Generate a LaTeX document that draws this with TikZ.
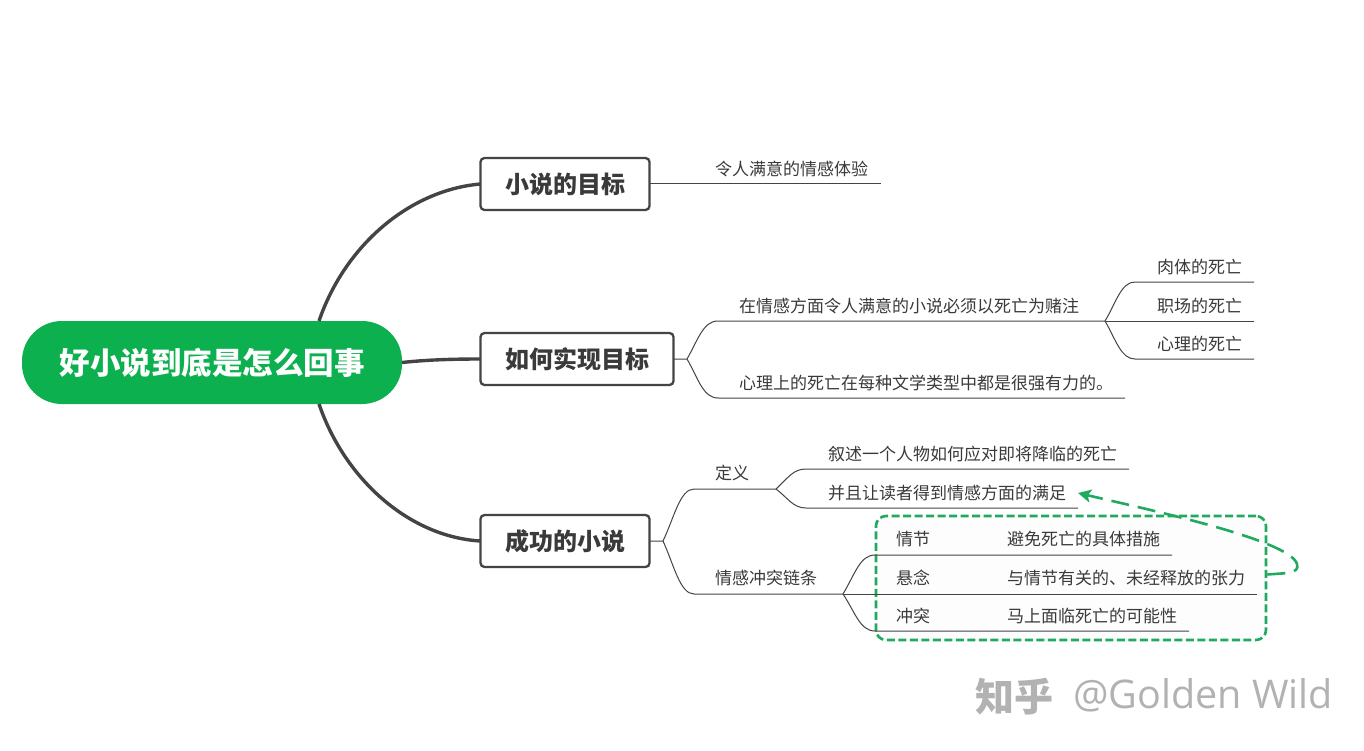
\documentclass[tikz,border=0pt]{standalone}
\usepackage{fontspec}
\setmainfont{Noto Sans CJK SC}
\newfontfamily\wmfont{Open Sans}
\usetikzlibrary{arrows.meta}
\definecolor{mygreen}{HTML}{0CB04F}
\definecolor{dashgreen}{HTML}{1FAA5F}
\definecolor{ink}{HTML}{444444}
\definecolor{txt}{HTML}{3A3A3A}
\tikzset{
  rootbox/.style={fill=mygreen,rounded corners=40pt,minimum width=380pt,minimum height=83pt,inner sep=0pt,outer sep=0pt,text=white,font=\fontsize{30.5}{32}\selectfont\bfseries},
  branchbox/.style={draw=ink,line width=2.3pt,fill=white,rounded corners=4pt,minimum height=52pt,inner sep=0pt,outer sep=0pt,text=txt,font=\fontsize{24}{26}\selectfont\bfseries},
  thick link/.style={draw=ink,line width=3.4pt},
  thin link/.style={draw=ink,line width=1pt},
  leaf/.style={anchor=west,inner sep=0pt,text=txt,font=\fontsize{17}{19}\selectfont},
  greenbox/.style={draw=dashgreen,line width=2.6pt,dash pattern=on 8pt off 3.5pt,rounded corners=10pt,fill=black!0.7,minimum width=390pt,minimum height=124pt,inner sep=0pt},
  watermark/.style={inner sep=0pt,text=black!30,anchor=west},
}
\begin{document}
\begin{tikzpicture}[x=1pt,y=-1pt]
\useasboundingbox[fill=white] (0,0) rectangle (1364,751);
% green highlight box
\node[greenbox] (hl) at (1071,578) {};
% hubs and ends
\coordinate (rt) at (319,321); \coordinate (rb) at (319,404);
\coordinate (f2) at (687,359); \coordinate (f3) at (663,541);
\coordinate (e1) at (881,184);
\coordinate (u21) at (1105,321); \coordinate (u22) at (1125,398);
\coordinate (e211) at (1254,282); \coordinate (e212) at (1254,321); \coordinate (e213) at (1254,359);
\coordinate (u31) at (776,489); \coordinate (u32) at (843,594);
\coordinate (e311) at (1129,469); \coordinate (e312) at (1078,508);
\coordinate (e321) at (1172,555); \coordinate (e322) at (1257,594); \coordinate (e323) at (1189,631);
% nodes
\node[rootbox] (root) at (212,362.5) {\raisebox{-1pt}{好小说到底是怎么回事}};
\node[branchbox,minimum width=169pt] (b1) at (565,184) {\raisebox{-1pt}{小说的目标}};
\node[branchbox,minimum width=193pt] (b2) at (577,359) {\raisebox{-1pt}{如何实现目标}};
\node[branchbox,minimum width=169pt] (b3) at (565,541) {\raisebox{-1pt}{成功的小说}};
% main connectors
\draw[thick link] (rt) .. controls (345,245) and (410,190) .. (b1.west);
\draw[thick link] (root.east) .. controls (425,360) and (450,359) .. (b2.west);
\draw[thick link] (rb) .. controls (345,480) and (410,537) .. (b3.west);
% branch 1
\draw[thin link] (b1.east) -- (e1);
% branch 2
\draw[thin link] (b2.east) -- (f2) .. controls (698,340) and (703,321) .. (718,321) -- (u21);
\draw[thin link] (f2) .. controls (698,378) and (703,398) .. (718,398) -- (u22);
\draw[thin link] (u21) .. controls (1116,303) and (1121,282) .. (1135,282) -- (e211);
\draw[thin link] (u21) -- (e212);
\draw[thin link] (u21) .. controls (1116,340) and (1121,359) .. (1135,359) -- (e213);
% branch 3
\draw[thin link] (b3.east) -- (f3) .. controls (674,518) and (680,489) .. (694,489) -- (u31);
\draw[thin link] (f3) .. controls (674,565) and (680,594) .. (694,594) -- (u32);
\draw[thin link] (u31) .. controls (788,478) and (793,469) .. (806,469) -- (e311);
\draw[thin link] (u31) .. controls (788,498) and (793,508) .. (806,508) -- (e312);
\draw[thin link] (u32) .. controls (855,574) and (860,555) .. (875,555) -- (e321);
\draw[thin link] (u32) -- (e322);
\draw[thin link] (u32) .. controls (855,612) and (860,631) .. (875,631) -- (e323);
% labels
\node[leaf] (t1) at (715,169) {令人满意的情感体验};
\node[leaf] (t21) at (739,306) {在情感方面令人满意的小说必须以死亡为赌注};
\node[leaf] (t22) at (739,383) {心理上的死亡在每种文学类型中都是很强有力的。};
\node[leaf] (t211) at (1157,267) {肉体的死亡};
\node[leaf] (t212) at (1157,306) {职场的死亡};
\node[leaf] (t213) at (1157,344) {心理的死亡};
\node[leaf] (t31) at (715,473) {定义};
\node[leaf] (t311) at (828,454) {叙述一个人物如何应对即将降临的死亡};
\node[leaf] (t312) at (828,493) {并且让读者得到情感方面的满足};
\node[leaf] (t32) at (715,578) {情感冲突链条};
\node[leaf] (t321) at (896,539) {情节};
\node[leaf] (t322) at (896,578) {悬念};
\node[leaf] (t323) at (896,616) {冲突};
\node[leaf] (t3211) at (1007,539) {避免死亡的具体措施};
\node[leaf] (t3221) at (1007,578) {与情节有关的、未经释放的张力};
\node[leaf] (t3231) at (1007,616) {马上面临死亡的可能性};
% relation arrow
\draw[draw=dashgreen,line width=2.6pt,dash pattern=on 18pt off 9pt,-{Stealth[length=13pt,width=13pt,inset=3pt]}]
  (hl.east |- 0,574.5) .. controls (1285,573) and (1300,574) .. (1297,564)
  .. controls (1290,540) and (1150,510) .. (t312.east -| e312) ;
% watermark
\node[watermark,font=\bfseries\fontsize{39}{41}\selectfont] (w1) at (975,697) {知乎};
\node[watermark,font=\wmfont\fontsize{39.5}{42}\selectfont] (w2) at (1073,695) {@Golden Wild};
\end{tikzpicture}
\end{document}
